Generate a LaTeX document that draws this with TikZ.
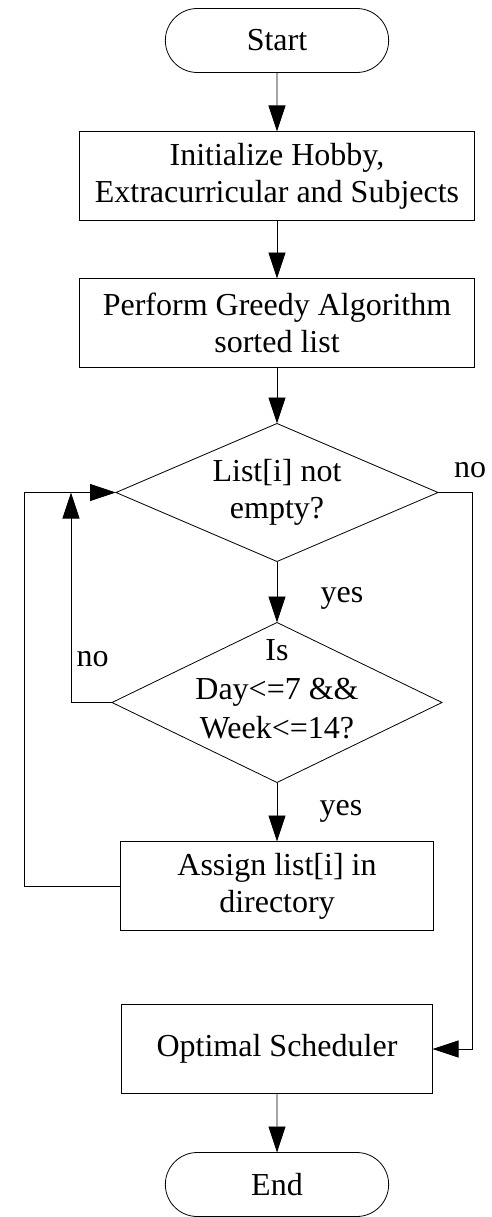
\documentclass[tikz,border=0pt]{standalone}
\usepackage{fontspec}
\setmainfont{Liberation Serif}
\usetikzlibrary{shapes.geometric, shapes.misc, arrows.meta, positioning}

\begin{document}
\begin{tikzpicture}[line width=0.8pt,
    txt/.style={font=\fontsize{32}{37}\selectfont},
    terminal/.style={txt, draw, rounded rectangle, minimum width=230pt, minimum height=64pt, outer sep=0pt},
    process/.style={txt, draw, rectangle, minimum height=89pt, align=center, outer sep=0pt},
    decision/.style={txt, draw, diamond, aspect=2, inner sep=0pt, align=center, outer sep=0pt},
    arr/.style={-{Triangle[length=26pt, width=17pt]}},
    lbl/.style={txt, inner sep=0pt}]
        \useasboundingbox (0,0) rectangle (492pt,-1217pt);

        % Nodes
        \node[terminal] (start) at (277pt,-40.5pt) {Start};
        \node[process, minimum width=395pt, below=59pt of start] (init) {Initialize Hobby,\\Extracurricular and Subjects};
        \node[process, minimum width=395pt, below=58pt of init] (greedy) {Perform Greedy Algorithm\\sorted list};
        \node[decision, minimum width=322pt, minimum height=138pt, below=56pt of greedy] (notempty) {List[i] not\\empty?};
        \node[decision, minimum width=330pt, minimum height=160pt, inner sep=-18pt, text depth=26pt, font=\fontsize{32}{39}\selectfont, below=61pt of notempty] (limits) {Is\\Day<=7 \&\&\\Week<=14?};
        \node[process, minimum width=313pt, below=59pt of limits] (assign) {Assign list[i] in\\directory};
        \node[process, minimum width=311pt, below=74pt of assign] (optimal) {Optimal Scheduler};
        \node[terminal, below=59pt of optimal] (end) {End};

        % Arrows
        \draw[arr] (start) -- (init);
        \draw[arr] (init) -- (greedy);
        \draw[arr] (greedy) -- (notempty);
        \draw[arr] (notempty) -- (limits);
        \draw[arr] (limits) -- (assign);
        \draw[arr] (optimal) -- (end);
        \draw[arr] (notempty.east) -- ++(34pt,0) |- (optimal.east);
        \draw[arr] (assign.west) -- ++(-96pt,0) |- (notempty.west);
        \draw[arr] (limits.west) -- ++(-41pt,0) coordinate (back) -- (back |- notempty.west);

        % Labels
        \node[lbl] (noright) at ([xshift=32pt, yshift=22.5pt]notempty.east) {no};
        \node[lbl] (noleft) at ([xshift=-19.5pt, yshift=43pt]limits.west) {no};
        \node[lbl] (yestop) at ([xshift=65pt, yshift=-37pt]notempty.south) {yes};
        \node[lbl] (yesbottom) at ([xshift=64pt, yshift=-29pt]limits.south) {yes};
    \end{tikzpicture}
\end{document}
